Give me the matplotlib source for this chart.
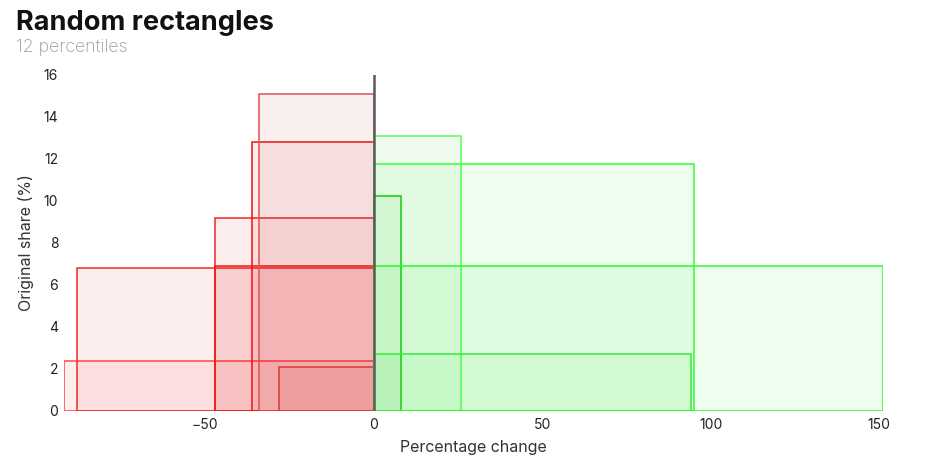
import matplotlib
matplotlib.use("Agg")
import matplotlib.pyplot as plt
from matplotlib.patches import Rectangle

# percentage change (rectangle width from 0) and original share (height)
change = [-92.0, -88.0, -47.0, -47.0, -36.0, -34.0, -28.0,
          26.0, 95.0, 8.0, 151.0, 94.0]
share = [2.37, 6.78, 9.2, 6.91, 12.82, 15.08, 2.09,
         13.1, 11.75, 10.22, 6.92, 2.69]

edge_cols = ["#ff4848", "#f02828", "#ee2a2a", "#ee1818", "#ee1010", "#e05050", "#d83838",
             "#55ff55", "#33ff33", "#11cc11", "#22ff22", "#33ee33"]
fill_cols = ["#ff3030", "#f02020", "#f02020", "#e01010", "#e01010", "#c03030", "#c02020",
             "#40d040", "#30f030", "#20c020", "#30f030", "#30e030"]

plt.rcParams['font.family'] = ['Inter', 'DejaVu Sans']

fig = plt.figure(figsize=(9.38, 4.67), dpi=100)
ax = fig.add_axes([0.068, 0.12, 0.873, 0.72])

for c, s, ec, fc in zip(change, share, edge_cols, fill_cols):
    ax.add_patch(Rectangle((0, 0), c, s, facecolor=fc, alpha=0.075, edgecolor='none'))
    ax.add_patch(Rectangle((0, 0), c, s, facecolor='none', edgecolor=ec, linewidth=1.1))

ax.plot([0, 0], [0, 16], color='#5a5a5a', linewidth=1.8, zorder=5)

ax.set_xlim(min(change), max(change))
ax.set_ylim(0, 16)
ax.set_xticks([-50, 0, 50, 100, 150])
ax.set_yticks(range(0, 17, 2))
ax.tick_params(length=0, labelsize=10, colors='#222222')
ax.tick_params(axis='y', pad=4)
ax.tick_params(axis='x', pad=5)
for sp in ax.spines.values():
    sp.set_visible(False)

ax.set_xlabel("Percentage change", fontsize=11.5, color='#333333', labelpad=6)
ax.set_ylabel("Original share (%)", fontsize=11.5, color='#333333', labelpad=7)

fig.text(0.017, 0.935, "Random rectangles", fontsize=19.5, fontweight='bold', color='#111111')
fig.text(0.017, 0.889, "12 percentiles", fontsize=12.8, fontweight='light', color='#999999')

fig.savefig("out.png", dpi=100)
